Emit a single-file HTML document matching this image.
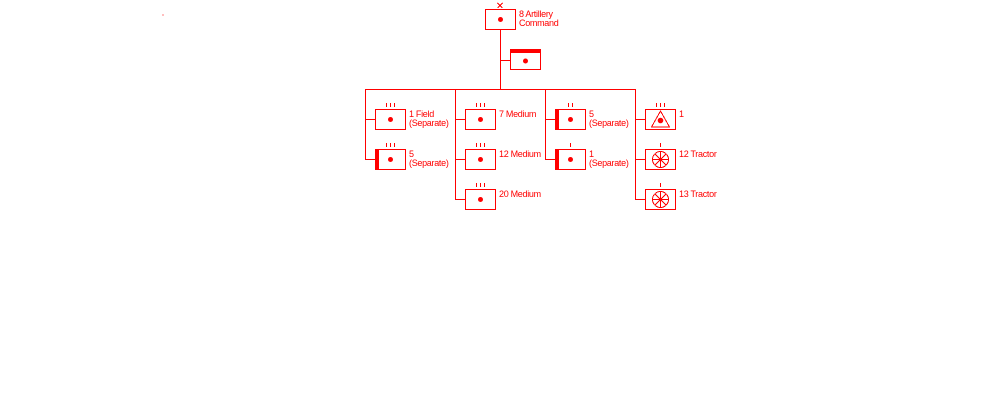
<!DOCTYPE html>
<html><head><meta charset="utf-8"><style>
html,body{margin:0;padding:0;background:#fff;width:1000px;height:400px;overflow:hidden}
svg text{font-family:"Liberation Sans",sans-serif;font-size:9px;fill:#f00;font-weight:normal;letter-spacing:-0.3px}
</style></head><body>
<svg width="1000" height="400" viewBox="0 0 1000 400" xmlns="http://www.w3.org/2000/svg">
<rect x="162.5" y="14.5" width="1" height="1" fill="#f00"/>
<g stroke="#f00" stroke-width="1" fill="none" shape-rendering="crispEdges">
<line x1="500.5" y1="29" x2="500.5" y2="89"/>
<line x1="500" y1="60.5" x2="510" y2="60.5"/>
<line x1="365" y1="89.5" x2="636" y2="89.5"/>
<line x1="365.5" y1="89" x2="365.5" y2="160"/>
<line x1="455.5" y1="89" x2="455.5" y2="200"/>
<line x1="545.5" y1="89" x2="545.5" y2="160"/>
<line x1="635.5" y1="89" x2="635.5" y2="200"/>
<line x1="365" y1="119.5" x2="375" y2="119.5"/><line x1="365" y1="159.5" x2="375" y2="159.5"/>
<line x1="455" y1="119.5" x2="465" y2="119.5"/><line x1="455" y1="159.5" x2="465" y2="159.5"/><line x1="455" y1="199.5" x2="465" y2="199.5"/>
<line x1="545" y1="119.5" x2="555" y2="119.5"/><line x1="545" y1="159.5" x2="555" y2="159.5"/>
<line x1="635" y1="119.5" x2="645" y2="119.5"/><line x1="635" y1="159.5" x2="645" y2="159.5"/><line x1="635" y1="199.5" x2="645" y2="199.5"/>
<rect x="485.5" y="9.5" width="30" height="20"/>
<rect x="510.5" y="49.5" width="30" height="20"/>
<rect x="375.5" y="109.5" width="30" height="20"/><rect x="375.5" y="149.5" width="30" height="20"/>
<rect x="465.5" y="109.5" width="30" height="20"/><rect x="465.5" y="149.5" width="30" height="20"/><rect x="465.5" y="189.5" width="30" height="20"/>
<rect x="555.5" y="109.5" width="30" height="20"/><rect x="555.5" y="149.5" width="30" height="20"/>
<rect x="645.5" y="109.5" width="30" height="20"/><rect x="645.5" y="149.5" width="30" height="20"/><rect x="645.5" y="189.5" width="30" height="20"/>
<path d="M386.5 103v4M390.5 103v4M394.5 103v4M386.5 143v4M390.5 143v4M394.5 143v4"/>
<path d="M476.5 103v4M480.5 103v4M484.5 103v4M476.5 143v4M480.5 143v4M484.5 143v4M476.5 183v4M480.5 183v4M484.5 183v4"/>
<path d="M568.5 103v4M572.5 103v4M570.5 143v4"/>
<path d="M656.5 103v4M660.5 103v4M664.5 103v4M660.5 143v4M660.5 183v4"/>
<path d="M497.5 3l5 5M502.5 3l-5 5"/>
<path d="M660.5 111L651.5 127H669.5Z"/>
<circle cx="660.5" cy="159.5" r="8"/><circle cx="660.5" cy="199.5" r="8"/>
<path d="M652.5 159.5h16M660.5 151.5v16M654.8 153.8l11.4 11.4M666.2 153.8l-11.4 11.4"/>
<path d="M652.5 199.5h16M660.5 191.5v16M654.8 193.8l11.4 11.4M666.2 193.8l-11.4 11.4"/>
</g>
<g fill="#f00">
<rect x="511" y="49" width="30" height="4"/>
<rect x="375" y="149" width="4" height="21"/>
<rect x="555" y="109" width="4" height="21"/><rect x="555" y="149" width="4" height="21"/>
<circle cx="500.5" cy="19.5" r="2.5"/><circle cx="525.5" cy="61" r="2.5"/>
<circle cx="390.5" cy="119.5" r="2.5"/><circle cx="390.5" cy="159.5" r="2.5"/>
<circle cx="480.5" cy="119.5" r="2.5"/><circle cx="480.5" cy="159.5" r="2.5"/><circle cx="480.5" cy="199.5" r="2.5"/>
<circle cx="570.5" cy="119.5" r="2.5"/><circle cx="570.5" cy="159.5" r="2.5"/>
<circle cx="660.5" cy="120.5" r="2.8"/>
</g>
<text x="519" y="17">8 Artillery</text><text x="519" y="26">Command</text>
<text x="409" y="117">1 Field</text><text x="409" y="126">(Separate)</text>
<text x="409" y="157">5</text><text x="409" y="166">(Separate)</text>
<text x="499" y="117">7 Medium</text>
<text x="499" y="157">12 Medium</text>
<text x="499" y="197">20 Medium</text>
<text x="589" y="117">5</text><text x="589" y="126">(Separate)</text>
<text x="589" y="157">1</text><text x="589" y="166">(Separate)</text>
<text x="679" y="117">1</text>
<text x="679" y="157">12 Tractor</text>
<text x="679" y="197">13 Tractor</text>
</svg>
</body></html>
